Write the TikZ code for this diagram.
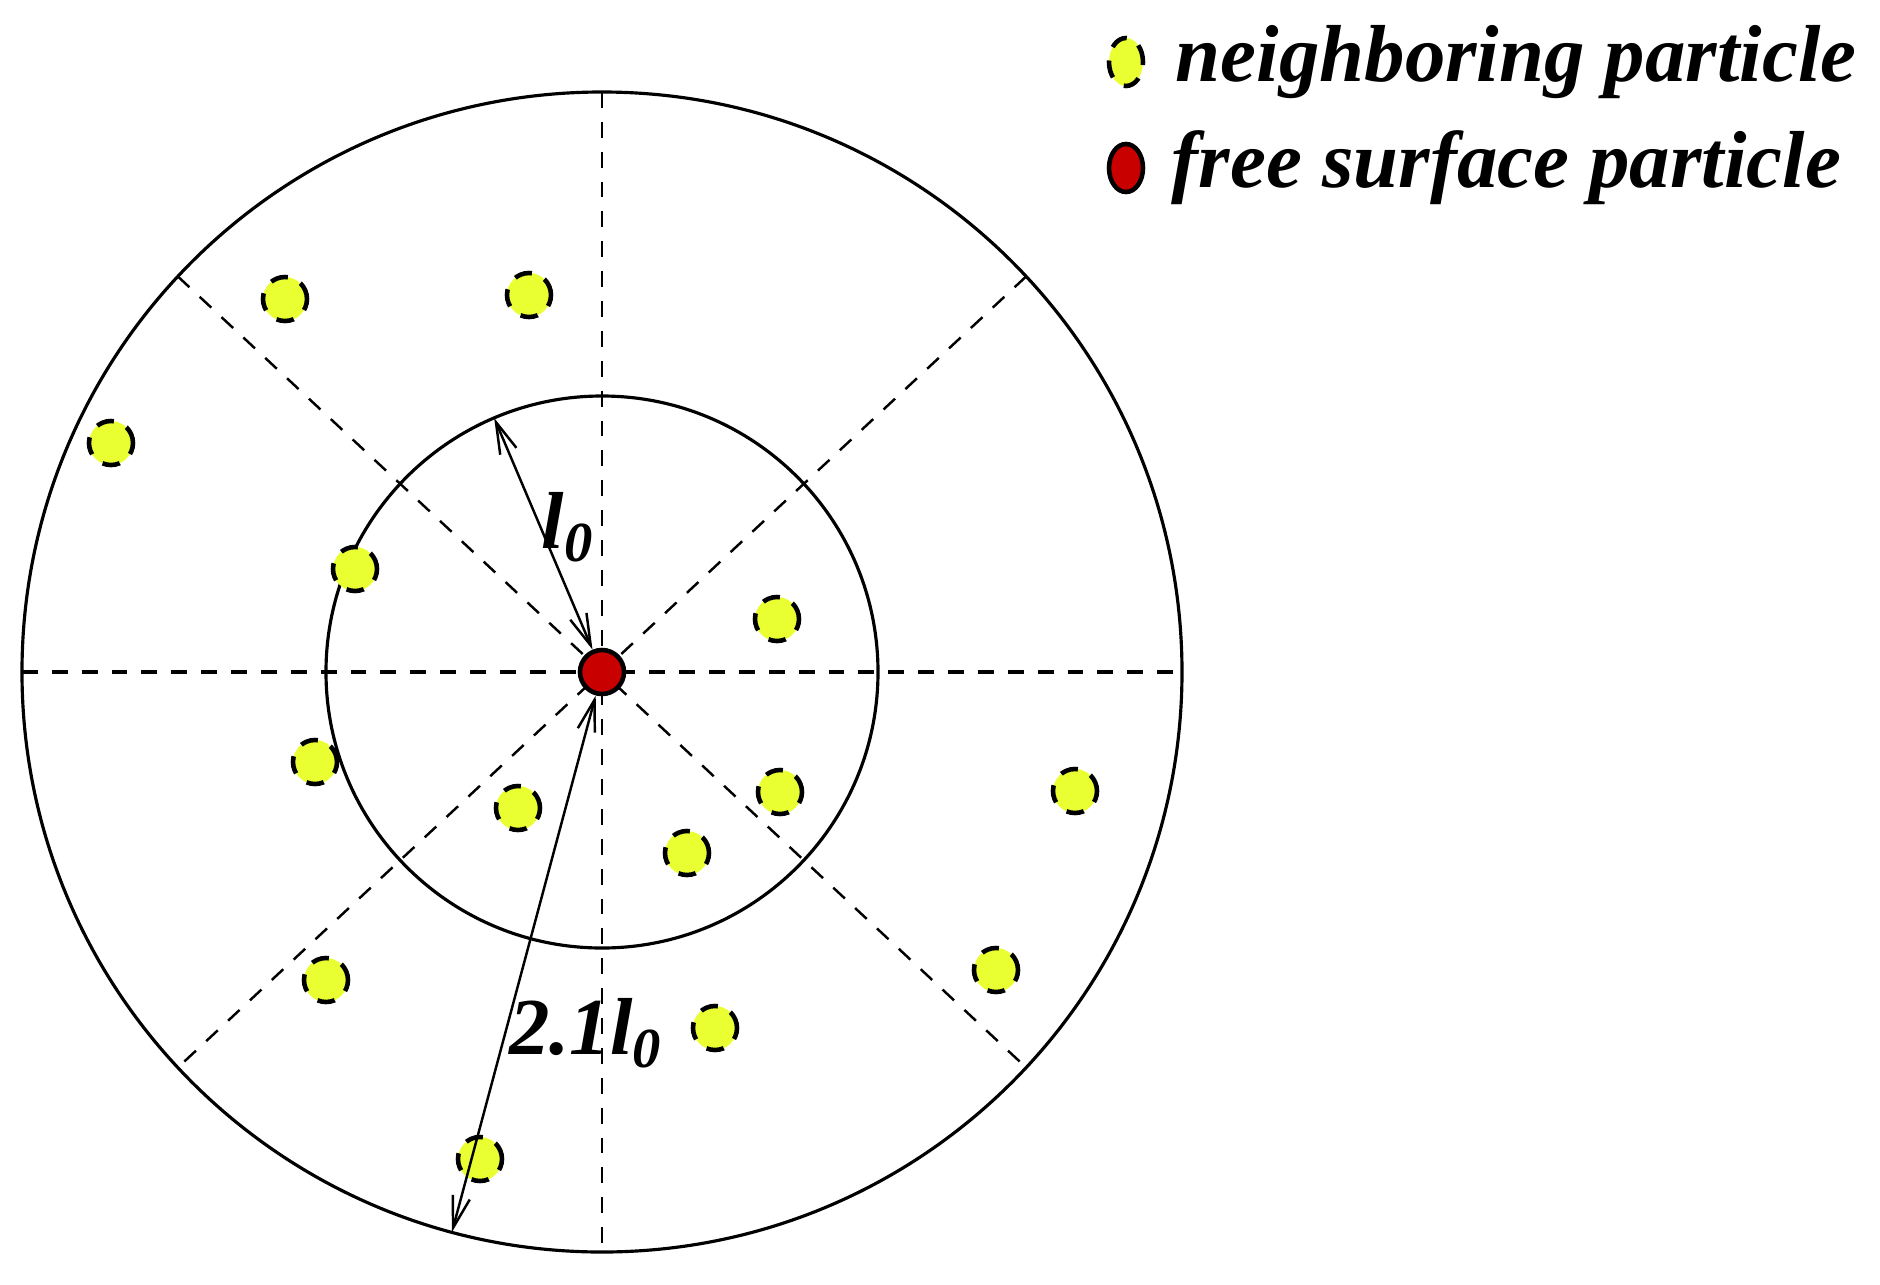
\documentclass[tikz,border=0pt]{standalone}
\usepackage{fontspec}
\setmainfont{Liberation Serif}
\usetikzlibrary{positioning, shapes.geometric, arrows.meta}
\definecolor{nbyellow}{RGB}{233,255,50}
\definecolor{fsred}{RGB}{200,0,0}

\begin{document}
\begin{tikzpicture}[
    x=1mm, y=1mm,
    ring/.style={circle, draw, line width=0.9pt, inner sep=0pt, outer sep=0pt},
    guide/.style={dash pattern=on 4.5pt off 4pt, line width=0.7pt},
    neighbor/.style={circle, draw, fill=nbyellow, line width=1.3pt, dash pattern=on 5pt off 4pt, minimum size=4.4mm, inner sep=0pt},
    freepart/.style={circle, draw, fill=fsred, line width=1.3pt, minimum size=4.4mm, inner sep=0pt},
    dim/.style={{Straight Barb[length=9pt,width=5pt]}-{Straight Barb[length=9pt,width=5pt]}, line width=0.7pt},
    lbl/.style={font=\fontsize{23}{27}\selectfont\bfseries\itshape, inner sep=0pt}
]
\useasboundingbox (-60.2,-61.2) rectangle (127.8,67.2);

% support domain
\coordinate (c) at (0,0);
\node[ring, minimum size=116mm] (outer) at (c) {};
\node[ring, minimum size=55.2mm] (inner) at (c) {};

% sector lines
\draw[guide, line width=1pt] (outer.west) -- (outer.east);
\draw[guide] (outer.north) -- (outer.south);
\draw[guide] (outer.137) -- (outer.-43);
\draw[guide] (outer.43) -- (outer.-137);

% neighboring particles
\node[neighbor] (n1) at (-31.7,37.3) {};
\node[neighbor] (n2) at (-7.3,37.7) {};
\node[neighbor] (n3) at (-49.1,22.9) {};
\node[neighbor] (n4) at (-24.7,10.3) {};
\node[neighbor] (n5) at (17.5,5.3) {};
\node[neighbor] (n6) at (-28.7,-9.0) {};
\node[neighbor] (n7) at (-8.4,-13.6) {};
\node[neighbor] (n8) at (17.8,-12.0) {};
\node[neighbor] (n9) at (8.5,-18.1) {};
\node[neighbor] (n10) at (47.3,-11.9) {};
\node[neighbor] (n11) at (-27.6,-30.8) {};
\node[neighbor] (n12) at (39.4,-29.8) {};
\node[neighbor] (n13) at (11.3,-35.6) {};
\node[neighbor] (n14) at (-12.2,-48.7) {};

% free surface particle
\node[freepart] (fs) at (c) {};

% radii
\draw[dim] (fs) -- node[lbl, pos=0.53, anchor=west] {l\textsubscript{0}} (inner.113);
\draw[dim] (fs) -- node[lbl, pos=0.63, anchor=west, xshift=0.3mm] {2.1l\textsubscript{0}} (outer.-105);

% legend
\node[neighbor, ellipse, minimum width=3.4mm, minimum height=4.8mm] (key_nb) at (52.4,61.0) {};
\node[freepart, ellipse, minimum width=3.4mm, minimum height=4.8mm] (key_fs) at (52.4,50.4) {};
\node[lbl, right=3mm of key_nb] (txt_nb) {neighboring particle};
\node[lbl, right=2.6mm of key_fs] (txt_fs) {free surface particle};

\end{tikzpicture}
\end{document}
